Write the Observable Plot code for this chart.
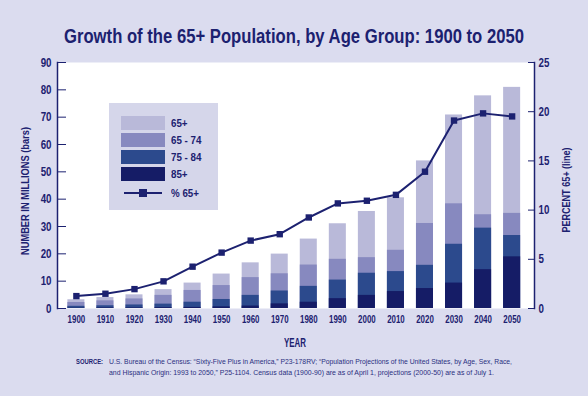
<!DOCTYPE html>
<html><head><meta charset="utf-8">
<script src="https://cdn.jsdelivr.net/npm/d3@7"></script>
<script src="https://cdn.jsdelivr.net/npm/@observablehq/plot@0.6"></script>
<style>
body{margin:0;background:#dbdcef;}
#wrap{position:relative;width:588px;height:396px;overflow:hidden;background:#dbdcef;font-family:"Liberation Sans",Arial,sans-serif;color:#1c2170;font-weight:bold;}
#wrap svg{position:absolute;left:0;top:0;}
.abs{position:absolute;white-space:nowrap;}
#legend{left:109px;top:103px;width:109px;height:107px;background:#d5d6ea;}
.sw{position:absolute;left:12px;width:44px;height:14px;}
.lt{position:absolute;left:62px;font-size:11.5px;line-height:14px;transform:scaleX(0.85);transform-origin:left center;}
</style></head>
<body><div id="wrap"></div>
<script>
const years = [1900,1910,1920,1930,1940,1950,1960,1970,1980,1990,2000,2010,2020,2030,2040,2050];
const pop65plus = [3.2,4.0,5.0,6.9,9.3,12.6,16.7,19.9,25.4,31.0,35.5,40.5,54.0,70.8,77.8,80.9];
const pop65to74 = [2.2,2.8,3.5,4.8,6.6,8.4,11.3,12.7,15.9,18.0,18.6,21.3,31.1,38.3,34.3,34.8];
const pop75to84 = [0.8,1.0,1.3,1.6,2.3,3.3,4.8,6.4,8.1,10.4,12.9,13.5,15.8,23.5,29.4,26.7];
const pop85plus = [0.1,0.2,0.2,0.3,0.4,0.6,0.9,1.7,2.3,3.6,4.8,6.2,7.3,9.3,14.2,18.9];
const pct65plus = [1.26,1.5,1.97,2.76,4.25,5.68,6.9,7.55,9.25,10.68,10.95,11.55,13.9,19.1,19.83,19.52];
const leftTicks = [0,10,20,30,40,50,60,70,80,90];
const rightTicks = [0,5,10,15,20,25];
const seriesNames = ["65+","65 - 74","75 - 84","85+"];
const seriesColors = ["#b9b9d9","#8789bf","#2c4a8d","#151c66"];
const lineLabel = "% 65+";
const navy = "#1c2170";

const leftMax = 90, rightMax = 25, k = leftMax / rightMax;
const halfBar = 2.93;
const rows = years.map((year, i) => ({year, a: pop65plus[i], b: pop65to74[i], c: pop75to84[i], d: pop85plus[i], pct: pct65plus[i]}));
const bar = (key, fill) => Plot.rectY(rows, {x1: r => r.year - halfBar, x2: r => r.year + halfBar, y: key, fill});

const chart = Plot.plot({
  width: 588, height: 396,
  marginLeft: 57, marginRight: 54, marginTop: 62, marginBottom: 88,
  style: {background: "transparent", fontFamily: '"Liberation Sans",Arial,sans-serif', fontWeight: "bold", fontSize: "12px", color: navy},
  x: {domain: [1893.5, 2057.7], axis: null},
  y: {domain: [0, leftMax], axis: null},
  marks: [
    Plot.frame({fill: "white", stroke: null}),
    bar("a", seriesColors[0]),
    bar("b", seriesColors[1]),
    bar("c", seriesColors[2]),
    bar("d", seriesColors[3]),
    Plot.line(rows, {x: "year", y: r => r.pct * k, stroke: navy, strokeWidth: 2}),
    Plot.dot(rows, {x: "year", y: r => r.pct * k, symbol: "square", r: 3.6, fill: navy}),
    Plot.frame({anchor: "left", stroke: navy, strokeWidth: 1.5}),
    Plot.frame({anchor: "right", stroke: navy, strokeWidth: 1.5}),
    Plot.axisY(leftTicks, {anchor: "right", frameAnchor: "left", tickSize: 8, fill: "none", stroke: navy, label: null}),
    Plot.axisY(leftTicks, {anchor: "left", tickSize: 0, tickPadding: 6, label: null, fill: navy, stroke: "none", fontSize: 12.5, className: "sq"}),
    Plot.axisY(rightTicks.map(t => t * k), {anchor: "left", frameAnchor: "right", tickSize: 6, fill: "none", stroke: navy, label: null}),
    Plot.axisY(rightTicks.map(t => t * k), {anchor: "right", tickSize: 0, tickPadding: 4, label: null, fill: navy, stroke: "none", fontSize: 12.5, className: "sq", tickFormat: t => String(Math.round(t / k))}),
    Plot.axisX(years, {tickSize: 0, tickPadding: 7, label: null, tickFormat: d => String(d), fill: navy, fontSize: 11, className: "sqx"})
  ]
});
const wrap = document.getElementById("wrap");
wrap.appendChild(chart);
// condensed look for tick labels
chart.querySelectorAll(".sq text").forEach(t => t.setAttribute("transform", (t.getAttribute("transform") || "") + " scale(0.78,1)"));
chart.querySelectorAll(".sqx text").forEach(t => t.setAttribute("transform", (t.getAttribute("transform") || "") + " scale(0.72,1)"));

function add(html, style) {
  const d = document.createElement("div");
  d.className = "abs";
  if (style) d.style.cssText = style;
  d.innerHTML = html;
  wrap.appendChild(d);
  return d;
}
// fit an element to a target width (horizontal condensing), anchored at a point
function fit(el, width, origin) {
  const w = el.getBoundingClientRect().width;
  el.style.transformOrigin = origin || "left center";
  el.style.transform = `scaleX(${width / w})`;
}
function fitV(el, cx, cy, length) {
  const w = el.getBoundingClientRect().width;
  const h = el.getBoundingClientRect().height;
  el.style.left = (cx - w / 2) + "px";
  el.style.top = (cy - h / 2) + "px";
  el.style.transformOrigin = "center center";
  el.style.transform = `rotate(-90deg) scaleX(${length / w})`;
}
const title = add("Growth of the 65+ Population, by Age Group: 1900 to 2050", "left:64px;top:24px;font-size:21px;line-height:24px;");
fit(title, 460);
fitV(add("NUMBER IN MILLIONS (bars)", "font-size:10.5px;line-height:12px;"), 25, 191, 128);
fitV(add("PERCENT 65+ (line)", "font-size:10.5px;line-height:12px;"), 566, 190, 85);
const yr = add("YEAR", "left:284px;top:336px;font-size:12px;line-height:14px;");
fit(yr, 22);
const lg = add("", "left:109px;top:103px;width:109px;height:107px;background:#d5d6ea;");
seriesNames.forEach((name, i) => {
  const top = 13 + i * 17;
  lg.insertAdjacentHTML("beforeend", `<div class="sw" style="top:${top}px;background:${seriesColors[i]}"></div><div class="lt" style="top:${top}px">${name}</div>`);
});
lg.insertAdjacentHTML("beforeend", `<div style="position:absolute;left:15px;top:89px;width:38px;height:2px;background:${navy}"></div><div style="position:absolute;left:30px;top:86px;width:8px;height:8px;background:${navy}"></div><div class="lt" style="top:83px">${lineLabel}</div>`);
const srcHead = add("SOURCE:", "left:76px;top:357px;font-size:8px;line-height:10px;");
fit(srcHead, 27);
const s1 = add("U.S. Bureau of the Census: “Sixty-Five Plus in America,” P23-178RV; “Population Projections of the United States, by Age, Sex, Race,", "left:109px;top:357px;font-size:8px;line-height:10px;font-weight:normal;color:#2a2f80;");
fit(s1, 403);
const s2 = add("and Hispanic Origin: 1993 to 2050,” P25-1104. Census data (1900-90) are as of April 1, projections (2000-50) are as of July 1.", "left:109px;top:368px;font-size:8px;line-height:10px;font-weight:normal;color:#2a2f80;");
fit(s2, 385);
</script></body></html>
